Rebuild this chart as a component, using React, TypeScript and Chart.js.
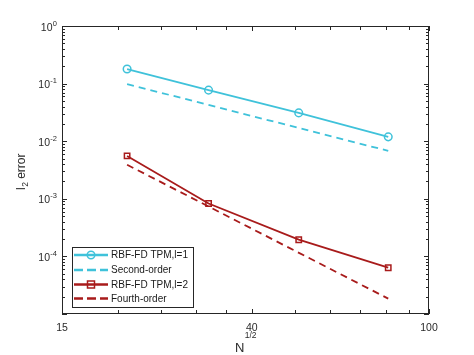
import { useEffect, useRef } from "react";
import { Chart, registerables } from "chart.js";
Chart.register(...registerables);

const sqrtN = [21, 32, 51, 81];
const errL1 = [0.179, 0.077, 0.031, 0.0119];
const errL2 = [0.00555, 0.00083, 0.000195, 0.0000636];
const refX = [21, 81];
const secondOrder = [0.098, 0.0068];
const fourthOrder = [0.0039, 0.0000185];
const seriesLabels = ["RBF-FD TPM,l=1", "Second-order", "RBF-FD TPM,l=2", "Fourth-order"];
const xTickValues = [15, 20, 25, 30, 35, 40, 50, 60, 70, 80, 90, 100];
const xTickLabels = [15, 40, 100];
const yDecades = [0, -1, -2, -3, -4, -5];
const yLabelDecades = [0, -1, -2, -3, -4];

const CYAN = "#3fc2da";
const RED = "#a81b1b";
const FONT = "'Liberation Sans', Arial, sans-serif";
const TEXT = "#2a2a2a";

const pts = (xs: number[], ys: number[]) => xs.map((x, i) => ({ x, y: ys[i] }));

const decorPlugin = {
  id: "decor",
  afterDraw(chart: any) {
    const ctx = chart.ctx as CanvasRenderingContext2D;
    const { left, right, top, bottom } = chart.chartArea;
    const xs = chart.scales.x;
    const ys = chart.scales.y;
    ctx.save();
    // frame
    ctx.strokeStyle = "#262626";
    ctx.lineWidth = 1;
    ctx.strokeRect(left + 0.5, top + 0.5, right - left - 1, bottom - top - 1);
    // x ticks
    ctx.beginPath();
    xTickValues.forEach((v) => {
      const px = Math.round(xs.getPixelForValue(v)) + 0.5;
      const len = xTickLabels.includes(v) ? 5 : 4;
      ctx.moveTo(px, bottom);
      ctx.lineTo(px, bottom - len);
      ctx.moveTo(px, top);
      ctx.lineTo(px, top + len);
    });
    // y ticks
    yDecades.forEach((k) => {
      const py = Math.round(ys.getPixelForValue(Math.pow(10, k))) + 0.5;
      ctx.moveTo(left, py);
      ctx.lineTo(left + 5, py);
      ctx.moveTo(right, py);
      ctx.lineTo(right - 5, py);
      if (k > -5) {
        for (let m = 2; m <= 9; m++) {
          const pm = Math.round(ys.getPixelForValue(m * Math.pow(10, k - 1))) + 0.5;
          ctx.moveTo(left, pm);
          ctx.lineTo(left + 3, pm);
          ctx.moveTo(right, pm);
          ctx.lineTo(right - 3, pm);
        }
      }
    });
    ctx.stroke();

    // x tick labels
    ctx.fillStyle = TEXT;
    ctx.font = `10.5px ${FONT}`;
    ctx.textAlign = "center";
    ctx.textBaseline = "alphabetic";
    xTickLabels.forEach((v) => {
      const px = xs.getPixelForValue(v);
      ctx.fillText(String(v), px, bottom + 17);
    });

    // y tick labels with superscripts
    yLabelDecades.forEach((k) => {
      const py = ys.getPixelForValue(Math.pow(10, k));
      const sup = String(k);
      ctx.font = `7.5px ${FONT}`;
      const sw = ctx.measureText(sup).width;
      const supRight = left - 5;
      ctx.textAlign = "right";
      ctx.fillText(sup, supRight, py - 0.5);
      ctx.font = `10.5px ${FONT}`;
      ctx.fillText("10", supRight - sw - 0.3, py + 4.5);
    });

    // x title N^{1/2}
    {
      const cx = (left + right) / 2;
      ctx.font = `13px ${FONT}`;
      const nw = ctx.measureText("N").width;
      ctx.font = `8.5px ${FONT}`;
      const sw = ctx.measureText("1/2").width;
      const start = cx - (nw + sw) / 2;
      ctx.textAlign = "left";
      ctx.font = `13px ${FONT}`;
      ctx.fillText("N", start, 352);
      ctx.font = `8.5px ${FONT}`;
      ctx.fillText("1/2", start + nw + 0.5, 338);
    }

    // y title l_2 error
    {
      const cy = 172;
      ctx.translate(25, cy);
      ctx.rotate(-Math.PI / 2);
      ctx.font = `12px ${FONT}`;
      const lw = ctx.measureText("l").width;
      const ew = ctx.measureText(" error").width;
      ctx.font = `8.5px ${FONT}`;
      const sw = ctx.measureText("2").width;
      const total = lw + sw + ew;
      const x0 = -total / 2;
      ctx.textAlign = "left";
      ctx.font = `12px ${FONT}`;
      ctx.fillText("l", x0, 0);
      ctx.font = `8.5px ${FONT}`;
      ctx.fillText("2", x0 + lw + 0.5, 3);
      ctx.font = `12px ${FONT}`;
      ctx.fillText(" error", x0 + lw + sw + 0.5, 0);
      ctx.setTransform(1, 0, 0, 1, 0, 0);
    }

    // legend
    {
      const bx = 72, by = 247, bw = 121, bh = 60;
      ctx.fillStyle = "#ffffff";
      ctx.fillRect(bx, by, bw, bh);
      ctx.strokeStyle = "#262626";
      ctx.lineWidth = 1;
      ctx.strokeRect(bx + 0.5, by + 0.5, bw, bh);
      const rows = [255, 270, 284.5, 298.5];
      chart.data.datasets.forEach((ds: any, i: number) => {
        const y = rows[i];
        ctx.strokeStyle = ds.borderColor;
        ctx.lineWidth = 2.5;
        ctx.setLineDash(ds.borderDash && ds.borderDash.length ? [9, 4] : []);
        ctx.beginPath();
        ctx.moveTo(74, y);
        ctx.lineTo(108, y);
        ctx.stroke();
        ctx.setLineDash([]);
        if (ds.pointRadius > 0) {
          ctx.lineWidth = 1.5;
          ctx.fillStyle = "#ffffff";
          ctx.beginPath();
          if (ds.pointStyle === "rect") {
            ctx.rect(91 - 3.5, y - 3.5, 7, 7);
          } else {
            ctx.arc(91, y, 3.8, 0, Math.PI * 2);
          }
          ctx.stroke();
        }
        ctx.fillStyle = "#1a1a1a";
        ctx.font = `10px ${FONT}`;
        ctx.textAlign = "left";
        ctx.textBaseline = "middle";
        ctx.fillText(ds.label, 111, y + 0.5);
        ctx.textBaseline = "alphabetic";
      });
    }
    ctx.restore();
  },
};

export default function App() {
  const ref = useRef<HTMLCanvasElement | null>(null);
  useEffect(() => {
    if (!ref.current) return;
    const chart = new Chart(ref.current, {
      type: "line",
      data: {
        datasets: [
          {
            label: seriesLabels[0],
            data: pts(sqrtN, errL1),
            borderColor: CYAN,
            backgroundColor: "rgba(0,0,0,0)",
            borderWidth: 1.8,
            pointStyle: "circle",
            pointRadius: 3.8,
            pointBorderWidth: 1.5,
            pointBackgroundColor: "rgba(255,255,255,0)",
            pointBorderColor: CYAN,
          },
          {
            label: seriesLabels[1],
            data: pts(refX, secondOrder),
            borderColor: CYAN,
            borderWidth: 1.8,
            borderDash: [7, 5],
            pointRadius: 0,
          },
          {
            label: seriesLabels[2],
            data: pts(sqrtN, errL2),
            borderColor: RED,
            backgroundColor: "rgba(0,0,0,0)",
            borderWidth: 1.8,
            pointStyle: "rect",
            pointRadius: 3.8,
            pointBorderWidth: 1.5,
            pointBackgroundColor: "rgba(255,255,255,0)",
            pointBorderColor: RED,
          },
          {
            label: seriesLabels[3],
            data: pts(refX, fourthOrder),
            borderColor: RED,
            borderWidth: 1.8,
            borderDash: [7, 5],
            pointRadius: 0,
          },
        ],
      },
      options: {
        responsive: false,
        animation: false,
        devicePixelRatio: 1,
        layout: { padding: { left: 62, right: 45, top: 26, bottom: 41 } },
        plugins: { legend: { display: false }, tooltip: { enabled: false } },
        scales: {
          x: {
            type: "logarithmic",
            min: 15,
            max: 100,
            ticks: { display: false },
            grid: { display: false },
            border: { display: false },
            afterFit: (s: any) => { s.height = 0; },
          },
          y: {
            type: "logarithmic",
            min: 1e-5,
            max: 1,
            ticks: { display: false },
            grid: { display: false },
            border: { display: false },
            afterFit: (s: any) => { s.width = 0; },
          },
        },
      } as any,
      plugins: [decorPlugin],
    });
    return () => chart.destroy();
  }, []);
  return (
    <div style={{ position: "absolute", left: 0, top: 0, width: 474, height: 355, background: "#fff" }}>
      <canvas ref={ref} width={474} height={355} />
    </div>
  );
}
